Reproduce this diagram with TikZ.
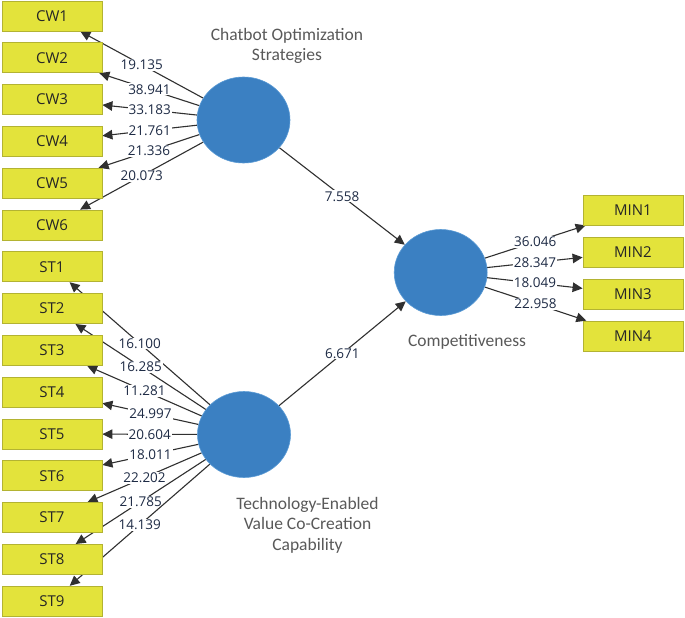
\documentclass[tikz,border=0pt]{standalone}
\usepackage{fontspec}
\setmainfont{Open Sans}
\newfontfamily\calfont{Carlito}
\usetikzlibrary{arrows.meta,shapes.geometric,backgrounds}
\definecolor{boxfill}{HTML}{E3E33B}
\definecolor{boxline}{HTML}{B3B332}
\definecolor{lvfill}{HTML}{3B80C2}
\definecolor{lvline}{HTML}{5B9BD5}
\definecolor{numtxt}{HTML}{1E2B45}
\definecolor{lvtxt}{HTML}{595959}
\definecolor{edgecol}{HTML}{303030}
\begin{document}
\begin{tikzpicture}[x=1pt,y=-1pt,
 ind/.style={draw=boxline, fill=boxfill, line width=0.8pt, minimum width=100pt, minimum height=30pt, inner sep=0pt, font=\fontsize{15}{17}\selectfont, text=black!85},
 lv/.style={ellipse, fill=lvfill, draw=lvline, line width=0.6pt, minimum width=93pt, minimum height=86pt, inner sep=0pt},
 lvlabel/.style={font=\calfont\fontsize{17.5}{20.5}\selectfont, text=lvtxt, align=center},
 conn/.style={draw=edgecol, line width=1.1pt, -{Triangle[length=10pt,width=9.5pt]}},
 num/.style={fill=white, inner sep=1pt, font=\fontsize{13.5}{15}\selectfont, text=numtxt}]

\useasboundingbox (0,0) rectangle (685,618);

% indicator boxes
\node[ind] (cw1) at (52,16) {CW1};
\node[ind] (cw2) at (52,57.8) {CW2};
\node[ind] (cw3) at (52,99.6) {CW3};
\node[ind] (cw4) at (52,141.4) {CW4};
\node[ind] (cw5) at (52,183.2) {CW5};
\node[ind] (cw6) at (52,225) {CW6};
\node[ind] (st1) at (52,266.8) {ST1};
\node[ind] (st2) at (52,308.6) {ST2};
\node[ind] (st3) at (52,350.4) {ST3};
\node[ind] (st4) at (52,392.2) {ST4};
\node[ind] (st5) at (52,434) {ST5};
\node[ind] (st6) at (52,475.8) {ST6};
\node[ind] (st7) at (52,517.6) {ST7};
\node[ind] (st8) at (52,559.4) {ST8};
\node[ind] (st9) at (52,601.2) {ST9};
\node[ind] (min1) at (633,210) {MIN1};
\node[ind] (min2) at (633,252) {MIN2};
\node[ind] (min3) at (633,294) {MIN3};
\node[ind] (min4) at (633,336) {MIN4};

% latent variables
\node[lv] (cop) at (243.5,120) {};
\node[lv] (tec) at (244,434.5) {};
\node[lv] (com) at (440.7,272.5) {};

\node[lvlabel] (copl) at (287,46) {Chatbot Optimization\\Strategies};
\node[lvlabel] (tecl) at (307.5,525) {Technology-Enabled\\Value Co-Creation\\Capability};
\node[lvlabel] (coml) at (467,342) {Competitiveness};

\begin{scope}[on background layer]
\fill[white] (0,0) rectangle (685,618);
\draw[conn] (cop) -- node[num]{19.135} (cw1);
\draw[conn] (cop) -- node[num]{38.941} (cw2);
\draw[conn] (cop) -- node[num]{33.183} (cw3);
\draw[conn] (cop) -- node[num]{21.761} (cw4);
\draw[conn] (cop) -- node[num]{21.336} (cw5);
\draw[conn] (cop) -- node[num]{20.073} (cw6);
\draw[conn] (tec) -- node[num]{16.100} (st1);
\draw[conn] (tec) -- node[num]{16.285} (st2);
\draw[conn] (tec) -- node[num]{11.281} (st3);
\draw[conn] (tec) -- node[num]{24.997} (st4);
\draw[conn] (tec) -- node[num]{20.604} (st5);
\draw[conn] (tec) -- node[num]{18.011} (st6);
\draw[conn] (tec) -- node[num]{22.202} (st7);
\draw[conn] (tec) -- node[num]{21.785} (st8);
\draw[conn] (tec) -- node[num]{14.139} (st9);
\draw[conn] (com) -- node[num]{36.046} (min1);
\draw[conn] (com) -- node[num]{28.347} (min2);
\draw[conn] (com) -- node[num]{18.049} (min3);
\draw[conn] (com) -- node[num]{22.958} (min4);
\draw[conn] (cop) -- node[num]{7.558} (com);
\draw[conn] (tec) -- node[num]{6.671} (com);
\end{scope}
\end{tikzpicture}
\end{document}
